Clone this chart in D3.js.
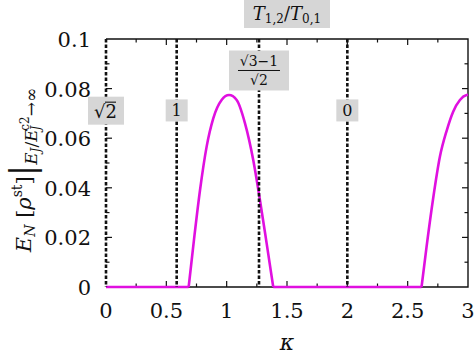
<!DOCTYPE html>
<html><head><meta charset="utf-8">
<script src="https://cdn.jsdelivr.net/npm/d3@7"></script>
<style>
html,body{margin:0;padding:0;background:#fff;}
svg{display:block;}
svg text{font-family:"DejaVu Serif",serif;}
</style></head>
<body>
<svg id="c" width="474" height="355"></svg>
<script>
// ---- data ----
const kappa = [0, 0.685, 0.729, 0.779, 0.834, 0.889, 0.958, 1.02, 1.083, 1.152, 1.221, 1.276, 1.331, 1.386,
               2.615, 2.656, 2.712, 2.767, 2.823, 2.877, 2.933, 2.988, 3.0];
const en    = [0, 0, 0.019, 0.039, 0.0566, 0.068, 0.0754, 0.0774, 0.0754, 0.066, 0.051, 0.035, 0.0177, 0,
               0, 0.016, 0.036, 0.0525, 0.063, 0.0707, 0.0754, 0.0774, 0.0775];
const xTicks = [0, 0.5, 1, 1.5, 2, 2.5, 3];
const xTickLabels = ["0", "0.5", "1", "1.5", "2", "2.5", "3"];
const yTicks = [0, 0.02, 0.04, 0.06, 0.08, 0.1];
const yTickLabels = ["0", "0.02", "0.04", "0.06", "0.08", "0.1"];
const vLines = [0, 2 - Math.SQRT2, 3 - Math.sqrt(3), 2];   // kappa where T12/T01 = sqrt2, 1, (sqrt3-1)/sqrt2, 0
const vLabels = ["sqrt2", "1", "frac", "0"];
const vLabelY = [0.0711, 0.0712, 0.0873, 0.0712];          // label centres in data units

const svg = d3.select("#c");
const x = d3.scaleLinear().domain([0, 3]).range([106, 468]);
const y = d3.scaleLinear().domain([0, 0.1]).range([287, 39]);
const ink = "#111";
function txt(sel) { return sel.append("text").attr("fill", ink); }

// frame (top, right, bottom solid)
svg.append("path")
  .attr("d", `M${x(0)},${y(0.1)}H${x(3)}V${y(0)}H${x(0)}`)
  .attr("fill", "none").attr("stroke", ink).attr("stroke-width", 1.4);

// ticks (inward)
d3.range(0, 3.001, 0.25).forEach(v => {
  const major = Math.abs(v * 2 - Math.round(v * 2)) < 1e-6;
  const L = major ? 6 : 3.5;
  if (v > 0 && v < 3) {
    svg.append("line").attr("x1", x(v)).attr("x2", x(v)).attr("y1", y(0)).attr("y2", y(0) - L).attr("stroke", ink).attr("stroke-width", 1.2);
    svg.append("line").attr("x1", x(v)).attr("x2", x(v)).attr("y1", y(0.1)).attr("y2", y(0.1) + L).attr("stroke", ink).attr("stroke-width", 1.2);
  }
});
d3.range(0, 0.1001, 0.01).forEach(v => {
  const major = Math.abs(v * 50 - Math.round(v * 50)) < 1e-6;
  const L = major ? 6 : 3.5;
  if (v > 0.0001 && v < 0.0999) {
    svg.append("line").attr("x1", x(0)).attr("x2", x(0) + L).attr("y1", y(v)).attr("y2", y(v)).attr("stroke", ink).attr("stroke-width", 1.2);
    svg.append("line").attr("x1", x(3)).attr("x2", x(3) - L).attr("y1", y(v)).attr("y2", y(v)).attr("stroke", ink).attr("stroke-width", 1.2);
  }
});

// tick labels
xTicks.forEach((v, i) => {
  txt(svg).attr("x", x(v)).attr("y", 318).attr("text-anchor", "middle")
    .attr("font-size", 21).text(xTickLabels[i]);
});
yTicks.forEach((v, i) => {
  txt(svg).attr("x", 91).attr("y", y(v) + 8).attr("text-anchor", "end")
    .attr("font-size", 21).text(yTickLabels[i]);
});

// curve: split into positive humps (smooth) and zero runs (straight)
const pts = kappa.map((k, i) => [k, en[i]]);
const runs = [];
let cur = [pts[0]];
for (let i = 1; i < pts.length; i++) {
  const p = pts[i], prev = pts[i - 1];
  const zeroSeg = p[1] === 0 && prev[1] === 0;
  const curZero = cur.length > 1 && cur[cur.length - 1][1] === 0 && cur[cur.length - 2][1] === 0;
  if (cur.length > 1 && zeroSeg !== curZero) { runs.push(cur); cur = [prev]; }
  cur.push(p);
}
runs.push(cur);
const lineSmooth = d3.line().x(d => x(d[0])).y(d => y(d[1])).curve(d3.curveMonotoneX);
const lineFlat = d3.line().x(d => x(d[0])).y(d => y(d[1]));
runs.forEach(r => {
  const flat = r.every(d => d[1] === 0);
  svg.append("path").attr("d", (flat ? lineFlat : lineSmooth)(r))
    .attr("fill", "none").attr("stroke", "#e010e0").attr("stroke-width", 2.6).attr("stroke-linejoin", "round");
});

// vertical dashed lines
vLines.forEach(v => {
  svg.append("line").attr("x1", x(v)).attr("x2", x(v)).attr("y1", y(0.1)).attr("y2", y(0))
    .attr("stroke", ink).attr("stroke-width", 2.6).attr("stroke-dasharray", "3.5,2");
});

// labels
const boxFill = "#d6d6d6";
function box(g, cx, cy, w, h) {
  g.append("rect").attr("x", cx - w / 2).attr("y", cy - h / 2).attr("width", w).attr("height", h).attr("fill", boxFill);
}
vLines.forEach((v, i) => {
  const cx = x(v), cy = y(vLabelY[i]);
  const g = svg.append("g");
  if (vLabels[i] === "sqrt2") {
    box(g, cx, cy, 36, 28);
    txt(g).attr("x", cx - 12).attr("y", cy + 7).attr("font-size", 18).text("\u221A2");
    g.append("line").attr("x1", cx - 1).attr("x2", cx + 10).attr("y1", cy - 8.5).attr("y2", cy - 8.5).attr("stroke", ink).attr("stroke-width", 1.1);
  } else if (vLabels[i] === "frac") {
    box(g, cx, cy, 60, 40);
    txt(g).attr("x", cx).attr("y", cy - 4).attr("font-size", 14).attr("text-anchor", "middle").text("\u221A3\u22121");
    g.append("line").attr("x1", cx - 21).attr("x2", cx + 21).attr("y1", cy).attr("y2", cy).attr("stroke", ink).attr("stroke-width", 1);
    txt(g).attr("x", cx).attr("y", cy + 15).attr("font-size", 14).attr("text-anchor", "middle").text("\u221A2");
  } else {
    box(g, cx, cy, 22, 22);
    txt(g).attr("x", cx).attr("y", cy + 6).attr("font-size", 16).attr("text-anchor", "middle").text(vLabels[i]);
  }
});

// top title box T_{1,2}/T_{0,1}
{
  const g = svg.append("g");
  box(g, x(1.5), 14, 86, 28);
  const t = txt(g).attr("x", x(1.5)).attr("y", 20).attr("font-size", 18).attr("text-anchor", "middle");
  t.append("tspan").attr("font-style", "italic").text("T");
  t.append("tspan").attr("font-size", 12).attr("dy", 3).text("1,2");
  t.append("tspan").attr("dy", -3).text("/");
  t.append("tspan").attr("font-style", "italic").text("T");
  t.append("tspan").attr("font-size", 12).attr("dy", 3).text("0,1");
}

// x axis label
txt(svg).attr("x", 287).attr("y", 350).attr("text-anchor", "middle")
  .attr("font-size", 22).attr("font-style", "italic").text("\u03BA");

// y axis label (rotated)
{
  const t = txt(svg).attr("transform", "translate(31,170) rotate(-90)")
    .attr("text-anchor", "middle").attr("font-size", 21);
  t.append("tspan").attr("font-style", "italic").text("E");
  t.append("tspan").attr("font-style", "italic").attr("font-size", 14).attr("dy", 4).text("N");
  t.append("tspan").attr("dy", -4).text(" [");
  t.append("tspan").attr("font-style", "italic").text("\u03C1");
  t.append("tspan").attr("font-size", 14).attr("dy", -9).text("st");
  t.append("tspan").attr("dy", 9).text("]");
  t.append("tspan").attr("font-size", 34).attr("dy", 3).text("|");
  t.append("tspan").attr("font-style", "italic").attr("font-size", 17).attr("dy", 3).text("E");
  t.append("tspan").attr("font-style", "italic").attr("font-size", 12).attr("dy", 3).text("J");
  t.append("tspan").attr("font-size", 17).attr("dy", -3).text("/");
  t.append("tspan").attr("font-style", "italic").attr("font-size", 17).text("E");
  t.append("tspan").attr("font-style", "italic").attr("font-size", 12).attr("dy", 3).attr("dx", -1).text("J");
  t.append("tspan").attr("font-size", 12).attr("dy", -11).attr("dx", -5).text("c2");
  t.append("tspan").attr("font-size", 17).attr("dy", 8).text("\u2192\u221E");
}
</script>
</body></html>
